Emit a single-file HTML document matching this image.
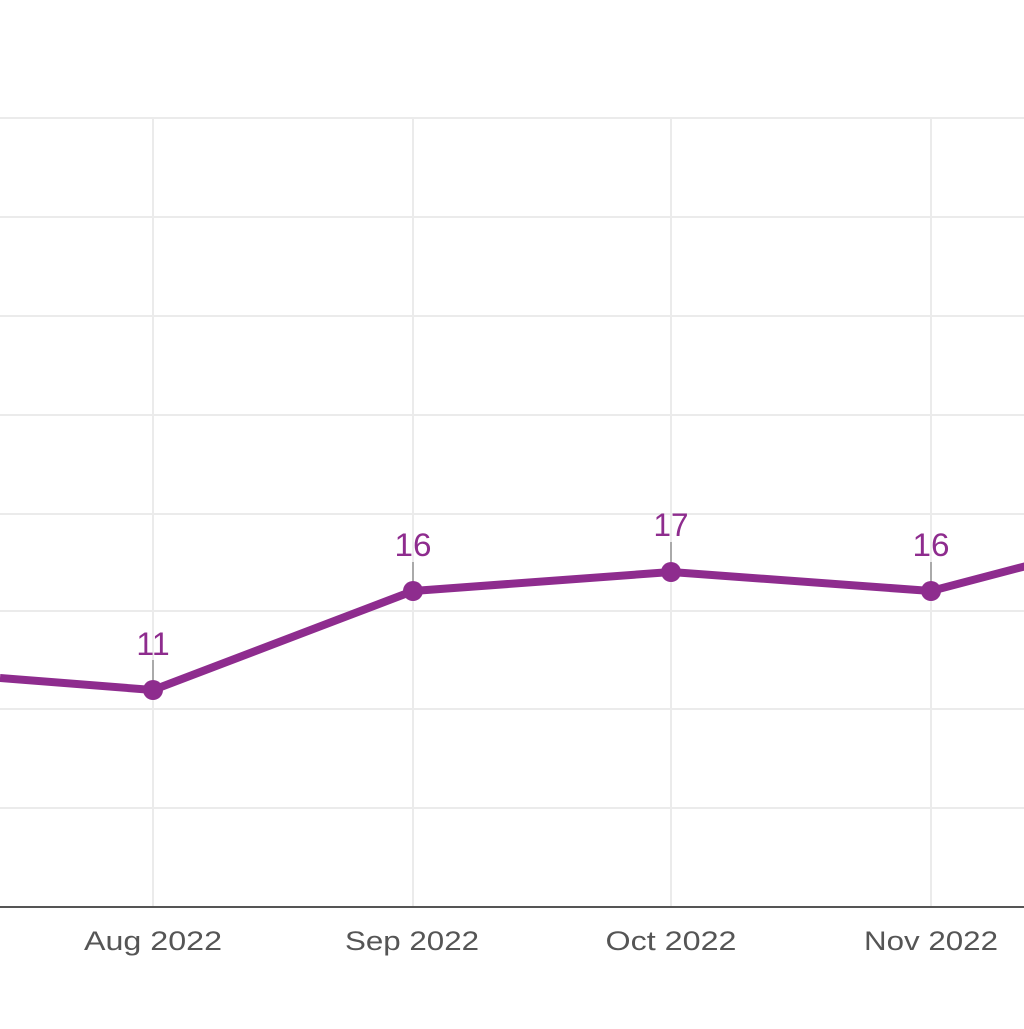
<!DOCTYPE html>
<html><head><style>body{margin:0;background:#fff}</style></head><body>
<svg width="1024" height="1024" xmlns="http://www.w3.org/2000/svg" font-family="Liberation Sans, sans-serif">
<g stroke="#ebebeb" stroke-width="2">
<line x1="0" y1="118" x2="1024" y2="118"/><line x1="0" y1="217" x2="1024" y2="217"/>
<line x1="0" y1="316" x2="1024" y2="316"/><line x1="0" y1="415" x2="1024" y2="415"/>
<line x1="0" y1="514" x2="1024" y2="514"/><line x1="0" y1="611" x2="1024" y2="611"/>
<line x1="0" y1="709" x2="1024" y2="709"/><line x1="0" y1="808" x2="1024" y2="808"/>
<line x1="153" y1="118" x2="153" y2="907"/><line x1="413" y1="118" x2="413" y2="907"/>
<line x1="671" y1="118" x2="671" y2="907"/><line x1="931" y1="118" x2="931" y2="907"/>
</g>
<line x1="0" y1="907" x2="1024" y2="907" stroke="#555" stroke-width="2"/>
<g stroke="#aaa" stroke-width="2">
<line x1="153" y1="660" x2="153" y2="680"/><line x1="413" y1="562" x2="413" y2="582"/>
<line x1="671" y1="542" x2="671" y2="562"/><line x1="931" y1="562" x2="931" y2="582"/>
</g>
<polyline points="0,678 153,690 413,591 671,572 931,591 1030,565" fill="none" stroke="#8e2c8e" stroke-width="8" stroke-linejoin="round"/>
<g fill="#8e2c8e">
<circle cx="153" cy="690" r="10"/><circle cx="413" cy="591" r="10"/><circle cx="671" cy="572" r="10"/><circle cx="931" cy="591" r="10"/>
</g>
<g fill="#8e2c8e" font-size="32" text-anchor="middle">
<text x="153" y="655">11</text>
<text x="413" y="556" textLength="37" lengthAdjust="spacingAndGlyphs">16</text>
<text x="671" y="536" textLength="35" lengthAdjust="spacingAndGlyphs">17</text>
<text x="931" y="556" textLength="37" lengthAdjust="spacingAndGlyphs">16</text>
</g>
<g fill="#555" font-size="27" text-anchor="middle">
<text x="153" y="950" textLength="138" lengthAdjust="spacingAndGlyphs">Aug 2022</text>
<text x="412" y="950" textLength="134" lengthAdjust="spacingAndGlyphs">Sep 2022</text>
<text x="671" y="950" textLength="131" lengthAdjust="spacingAndGlyphs">Oct 2022</text>
<text x="931" y="950" textLength="134" lengthAdjust="spacingAndGlyphs">Nov 2022</text>
</g>
</svg>
</body></html>
